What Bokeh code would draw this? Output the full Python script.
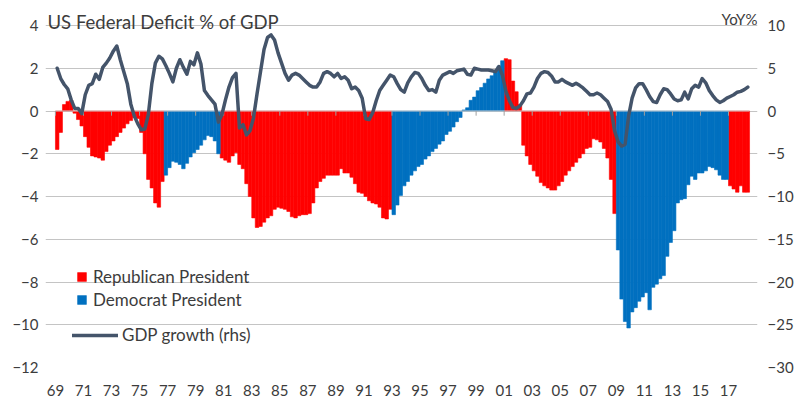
from bokeh.plotting import figure
from bokeh.models import (Range1d, LinearAxis, FixedTicker, Legend, LegendItem,
                          Label, ColumnDataSource)
from bokeh.embed import file_html
from bokeh.resources import INLINE

# ---------------- data (quarterly, 1969Q1 .. 2018Q2) ----------------
start_year = 1969
deficit = [
    -1.8, -1.0, 0.3, 0.45,      # 1969
    0.5, -0.1, -0.4, -0.7,      # 1970
    -1.2, -1.7, -2.1, -2.15,    # 1971
    -2.2, -2.3, -1.9, -1.6,     # 1972
    -1.4, -1.2, -1.0, -0.8,     # 1973
    -0.6, -0.45, -0.3, -0.35,   # 1974
    -1.0, -2.0, -3.2, -3.6,     # 1975
    -4.3, -4.5, -3.3, -3.0,     # 1976
    -2.65, -2.35, -2.4, -2.5,   # 1977
    -2.7, -2.45, -2.15, -1.95,  # 1978
    -1.8, -1.6, -1.35, -1.15,   # 1979
    -1.2, -1.4, -2.0, -2.2,     # 1980
    -2.3, -2.4, -2.1, -1.95,    # 1981
    -2.5, -2.7, -3.4, -4.0,     # 1982
    -5.0, -5.45, -5.4, -5.2,    # 1983
    -5.0, -4.9, -4.6, -4.5,     # 1984
    -4.55, -4.6, -4.7, -4.95,   # 1985
    -5.0, -4.9, -4.85, -4.85,   # 1986
    -4.8, -4.3, -3.6, -3.3,     # 1987
    -3.15, -3.0, -3.0, -3.0,    # 1988
    -3.0, -2.7, -2.9, -2.9,     # 1989
    -3.1, -3.4, -3.8, -3.85,    # 1990
    -4.0, -4.2, -4.3, -4.35,    # 1991
    -4.5, -5.0, -5.05, -4.6,    # 1992
    -4.85, -4.4, -3.95, -3.5,   # 1993
    -3.3, -3.0, -2.8, -2.6,     # 1994
    -2.5, -2.25, -2.1, -1.9,    # 1995
    -1.75, -1.55, -1.4, -1.1,   # 1996
    -0.95, -0.75, -0.5, -0.3,   # 1997
    0.05, 0.15, 0.5, 0.65,      # 1998
    0.95, 1.1, 1.3, 1.5,        # 1999
    1.65, 1.8, 2.1, 2.35,       # 2000
    2.45, 2.4, 1.4, 0.9,        # 2001
    0.3, -1.6, -2.1, -2.5,      # 2002
    -2.8, -3.05, -3.35, -3.5,   # 2003
    -3.6, -3.7, -3.7, -3.5,     # 2004
    -3.3, -3.0, -2.8, -2.6,     # 2005
    -2.4, -2.2, -2.0, -1.75,    # 2006
    -1.7, -1.3, -1.35, -1.45,   # 2007
    -1.75, -2.2, -3.2, -4.8,    # 2008
    -6.5, -8.8, -9.85, -10.15,  # 2009
    -9.4, -9.2, -8.9, -8.7,     # 2010
    -8.5, -9.3, -8.25, -8.1,    # 2011
    -7.85, -7.7, -6.8, -6.15,   # 2012
    -5.6, -4.3, -4.15, -4.1,    # 2013
    -3.45, -3.05, -3.2, -2.9,   # 2014
    -2.9, -2.8, -2.6, -2.65,    # 2015
    -2.75, -3.0, -3.2, -3.2,    # 2016
    -3.5, -3.65, -3.8, -3.5,    # 2017
    -3.8, -3.8,                 # 2018
]
gdp_growth = [
    5.0, 3.8, 3.1, 2.6,     # 1969
    1.3, 0.3, 0.3, -0.3,    # 1970
    1.9, 3.0, 3.2, 4.3,     # 1971
    3.7, 5.1, 5.6, 6.2,     # 1972
    7.0, 7.6, 6.0, 4.6,     # 1973
    3.2, 0.8, -0.6, -1.5,   # 1974
    -2.2, -2.1, -0.4, 3.2,  # 1975
    5.6, 6.4, 6.1, 5.3,     # 1976
    4.4, 3.4, 5.0, 6.0,     # 1977
    5.1, 4.3, 5.8, 5.4,     # 1978
    6.8, 5.5, 2.4, 1.8,     # 1979
    1.3, 0.8, -1.3, -0.4,   # 1980
    1.3, 2.8, 3.9, 4.4,     # 1981
    -2.0, -1.6, -2.8, -2.3, # 1982
    -0.8, 2.0, 4.6, 7.2,    # 1983
    8.6, 8.9, 8.3, 6.8,     # 1984
    5.6, 4.4, 3.6, 4.2,     # 1985
    4.4, 4.2, 3.8, 3.4,     # 1986
    3.0, 2.8, 2.8, 3.4,     # 1987
    4.4, 4.6, 4.4, 4.0,     # 1988
    4.4, 3.8, 4.0, 3.6,     # 1989
    2.6, 2.8, 2.4, 1.5,     # 1990
    -0.9, -1.0, -0.2, 1.2,  # 1991
    2.4, 3.0, 3.6, 4.2,     # 1992
    4.0, 3.2, 2.5, 2.2,     # 1993
    3.3, 4.0, 4.5, 4.4,     # 1994
    3.8, 3.0, 2.4, 2.5,     # 1995
    2.2, 3.6, 4.2, 4.4,     # 1996
    4.6, 4.4, 4.7, 4.8,     # 1997
    4.9, 4.3, 4.2, 5.0,     # 1998
    4.9, 4.8, 4.8, 4.8,     # 1999
    4.7, 4.6, 5.2, 4.2,     # 2000
    2.3, 1.2, 0.4, 0.3,     # 2001
    0.6, 1.2, 2.0, 2.1,     # 2002
    2.8, 3.8, 4.4, 4.6,     # 2003
    4.5, 4.1, 3.4, 3.4,     # 2004
    3.7, 3.4, 3.2, 3.0,     # 2005
    3.25, 3.0, 2.7, 2.3,    # 2006
    1.9, 1.9, 2.1, 1.9,     # 2007
    1.5, 1.1, 0.2, -2.3,    # 2008
    -3.6, -4.1, -3.9, -0.6, # 2009
    1.5, 2.7, 3.2, 3.2,     # 2010
    2.5, 1.7, 1.1, 1.0,     # 2011
    1.9, 2.6, 2.5, 2.0,     # 2012
    1.4, 1.2, 1.3, 2.2,     # 2013
    1.4, 2.6, 3.0, 2.8,     # 2014
    3.8, 3.3, 2.4, 1.8,     # 2015
    1.3, 1.0, 1.2, 1.5,     # 2016
    1.7, 1.9, 2.2, 2.3,     # 2017
    2.5, 2.8,               # 2018
]
# presidential terms as coloured in the chart
term_party = ["R", "D", "R", "D", "R", "D", "R"]
term_start = ["1969Q1", "1976Q4", "1980Q4", "1993Q1", "2001Q1", "2009Q1", "2017Q1"]

year_labels = ["69", "71", "73", "75", "77", "79", "81", "83", "85", "87", "89", "91",
               "93", "95", "97", "99", "01", "03", "05", "07", "09", "11", "13", "15", "17"]
left_ticks = [-12, -10, -8, -6, -4, -2, 0, 2, 4]
right_ticks = [-30, -25, -20, -15, -10, -5, 0, 5, 10]

RED = "#FF0000"
BLUE = "#0070C0"
LINE = "#44546A"
TXT = "#3C3C3C"
FONT = "Lato"

# ---------------- derived ----------------
def qidx(s):
    y, q = s.split("Q")
    return (int(y) - start_year) * 4 + int(q) - 1

n = len(deficit)
starts = [qidx(s) for s in term_start]
party = []
for i in range(n):
    k = max(j for j, s in enumerate(starts) if s <= i)
    party.append(term_party[k])

xc = [i + 0.5 for i in range(n)]          # bar centres (quarter units)
rep = ColumnDataSource(dict(x=[xc[i] for i in range(n) if party[i] == "R"],
                            y=[deficit[i] for i in range(n) if party[i] == "R"]))
dem = ColumnDataSource(dict(x=[xc[i] for i in range(n) if party[i] == "D"],
                            y=[deficit[i] for i in range(n) if party[i] == "D"]))
tick_pos = [8 * k for k in range(len(year_labels))]

# ---------------- layout geometry (pixels) ----------------
W, H = 796, 410
plot_w, plot_h = 698, 342          # area covered by the data / grid
pad_left, pad_right, pad_top = 10, 8, 25   # frame margin for the header texts
px_q = plot_w / n
px_l = plot_h / (left_ticks[-1] - left_ticks[0])
px_r = plot_h / (right_ticks[-1] - right_ticks[0])

p = figure(width=W, height=H, output_backend="svg", toolbar_location=None,
           x_range=Range1d(-pad_left / px_q, n + pad_right / px_q),
           y_range=Range1d(left_ticks[0], left_ticks[-1] + pad_top / px_l),
           min_border_left=55 - pad_left, min_border_right=W - 753 - pad_right,
           min_border_top=0, min_border_bottom=43, outline_line_color=None,
           x_axis_location=None, y_axis_location=None)
p.extra_y_ranges = {"rhs": Range1d(right_ticks[0], right_ticks[-1] + pad_top / px_r)}

# axes
xax = LinearAxis(ticker=FixedTicker(ticks=tick_pos),
                 major_label_overrides={t: l for t, l in zip(tick_pos, year_labels)})
yl = LinearAxis(ticker=FixedTicker(ticks=left_ticks))
yr = LinearAxis(ticker=FixedTicker(ticks=right_ticks), y_range_name="rhs")
for ax in (xax, yl, yr):
    ax.axis_line_color = None
    ax.major_tick_line_color = None
    ax.minor_tick_line_color = None
    ax.major_tick_in = 0
    ax.major_tick_out = 0
    ax.major_label_text_font = FONT
    ax.major_label_text_font_size = "15px"
    ax.major_label_text_color = TXT
xax.major_label_standoff = 17
yl.major_label_standoff = 17 - pad_left
yr.major_label_standoff = 18 - pad_right
p.add_layout(xax, "below")
p.add_layout(yl, "left")
p.add_layout(yr, "right")

p.xgrid.visible = False
p.ygrid.ticker = FixedTicker(ticks=left_ticks)
p.ygrid.bounds = (0, n)
p.ygrid.grid_line_color = "#C4C4C4"
p.ygrid.grid_line_width = 1

# bars
r_rep = p.vbar(x="x", top="y", bottom=0, width=1, source=rep,
               fill_color=RED, line_color=RED, line_width=0.6)
r_dem = p.vbar(x="x", top="y", bottom=0, width=1, source=dem,
               fill_color=BLUE, line_color=BLUE, line_width=0.6)

# zero axis line with small tick marks (drawn over the bars)
p.segment(x0=[0], x1=[n], y0=[0], y1=[0], line_color="#D0D0D0", line_width=1)
p.segment(x0=tick_pos, x1=tick_pos, y0=[0] * len(tick_pos),
          y1=[-0.22] * len(tick_pos), line_color="#A0A0A0", line_width=1)

# GDP line
r_gdp = p.line(xc, gdp_growth, y_range_name="rhs", line_color=LINE,
               line_width=3.5, line_join="round", line_cap="round")

# legends
leg1 = Legend(items=[LegendItem(label="Republican President", renderers=[r_rep]),
                     LegendItem(label="Democrat President", renderers=[r_dem])],
              location=(21 + pad_left, 57), glyph_width=11, glyph_height=11,
              label_standoff=6, spacing=2, padding=0, margin=0,
              background_fill_alpha=0, border_line_alpha=0,
              label_text_font=FONT, label_text_font_size="17px",
              label_text_color=TXT)
leg2 = Legend(items=[LegendItem(label="GDP growth (rhs)", renderers=[r_gdp])],
              location=(17 + pad_left, 22), glyph_width=46, glyph_height=18,
              label_standoff=4, padding=0, margin=0,
              background_fill_alpha=0, border_line_alpha=0,
              label_text_font=FONT, label_text_font_size="17px",
              label_text_color=TXT)
p.add_layout(leg1)
p.add_layout(leg2)

# header texts (inside the frame margin, above the plotting area)
p.add_layout(Label(x=2, y=plot_h + 3.3, x_units="screen", y_units="screen",
                   text="US Federal Deficit % of GDP", text_font=FONT,
                   text_font_size="18.5px", text_color=TXT,
                   text_baseline="alphabetic"))
p.add_layout(Label(x=pad_left + plot_w + 4, y=plot_h + 6.7,
                   x_units="screen", y_units="screen",
                   text="YoY%", text_font=FONT, text_font_size="15px",
                   text_color=TXT, text_align="right",
                   text_baseline="alphabetic"))

open("out.html", "w").write(file_html(p, INLINE))
